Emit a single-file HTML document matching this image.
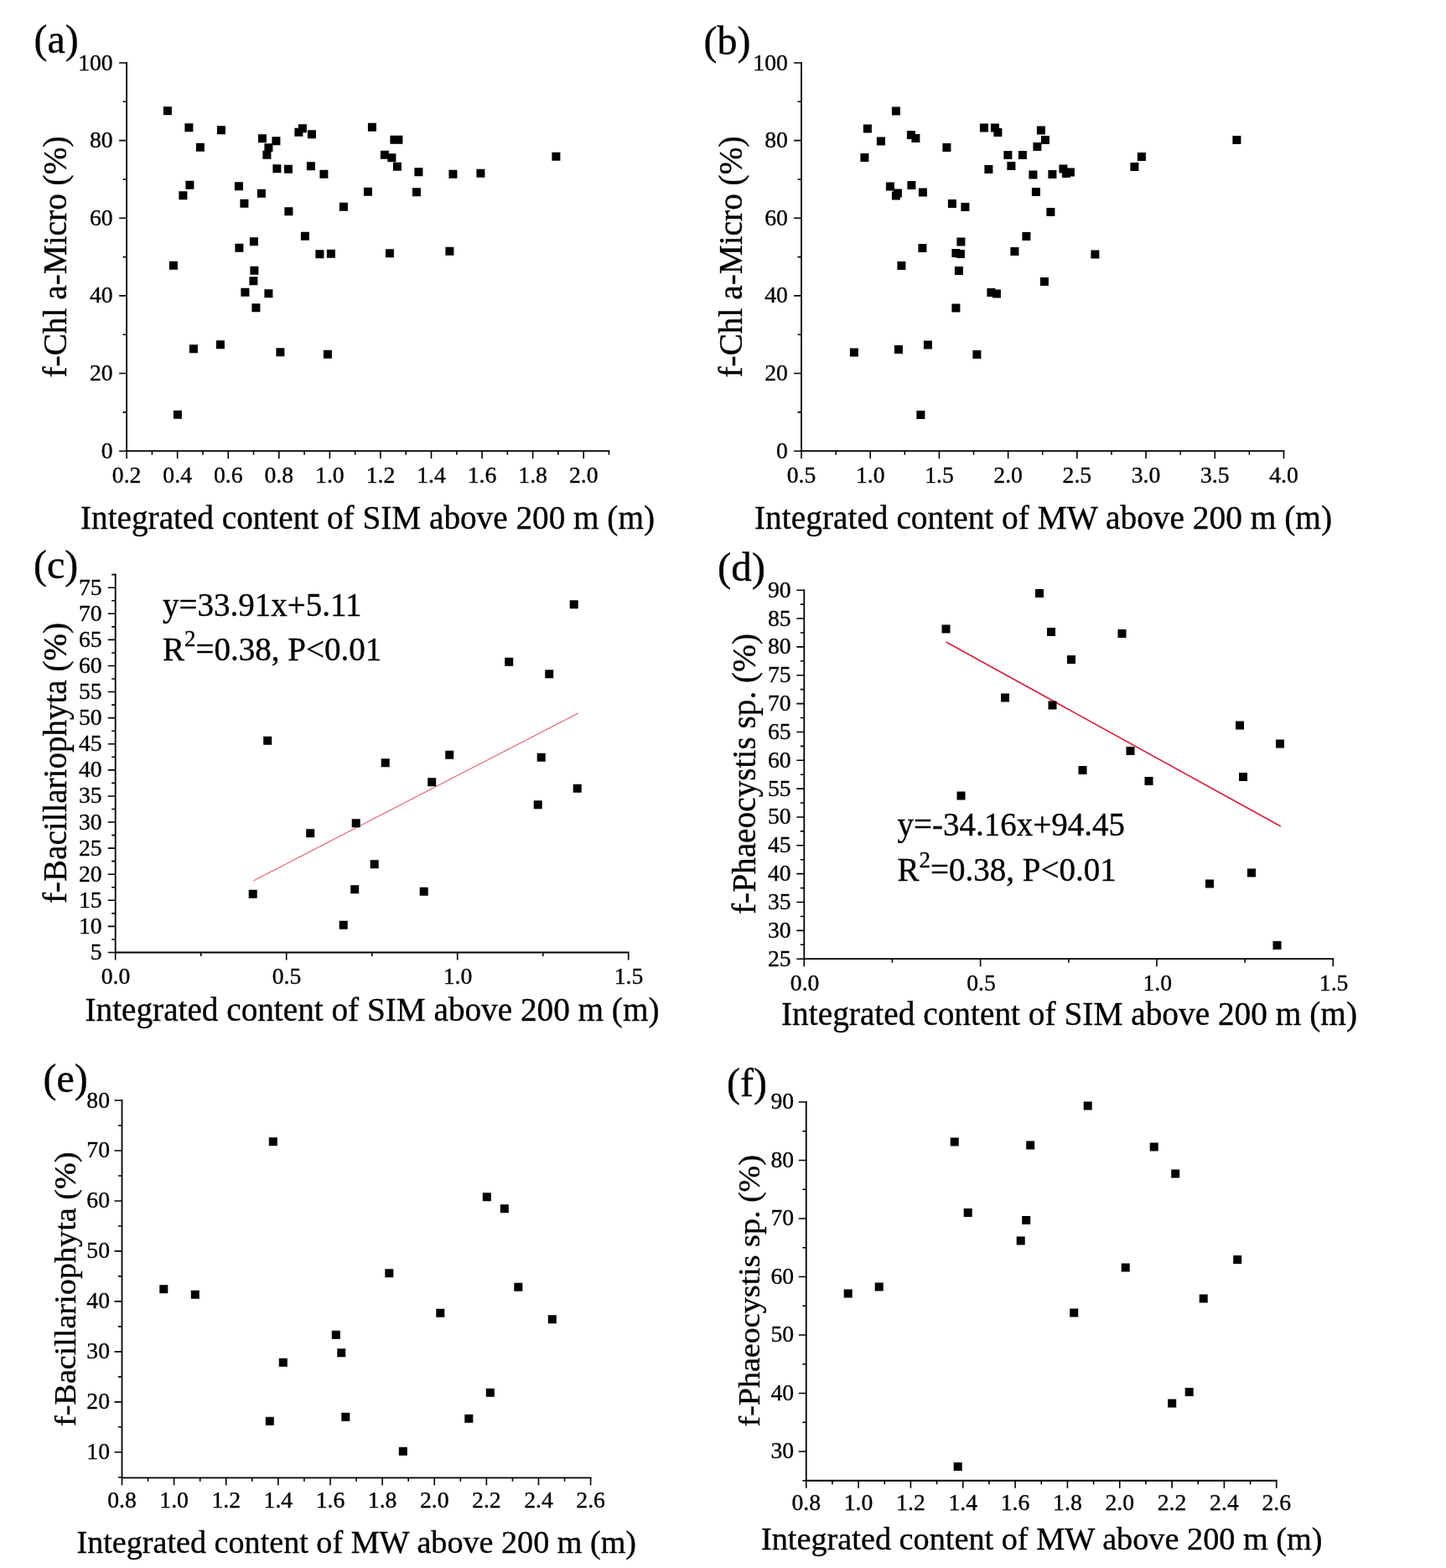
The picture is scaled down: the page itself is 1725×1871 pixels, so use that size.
<!DOCTYPE html>
<html lang="en"><head><meta charset="utf-8"><title>Figure</title>
<style>
html,body{margin:0;padding:0;background:#fff;}
body{width:1725px;height:1871px;overflow:hidden;}
svg{display:block;font-family:"Liberation Serif", serif;fill:#000;}
text{stroke:#000;stroke-width:0.35px;}
</style></head><body>
<svg width="1725" height="1871" viewBox="0 0 1725 1871">
<rect width="1725" height="1871" fill="#fff"/>
<path d="M151.1 74.1V539.1M150.2 538.2H727.38" fill="none" stroke="#000" stroke-width="1.8"/>
<path d="M151.1 538.2v9.0M211.67 538.2v9.0M272.23 538.2v9.0M332.8 538.2v9.0M393.37 538.2v9.0M453.93 538.2v9.0M514.5 538.2v9.0M575.07 538.2v9.0M635.63 538.2v9.0M696.2 538.2v9.0M181.38 538.2v4.5M241.95 538.2v4.5M302.52 538.2v4.5M363.08 538.2v4.5M423.65 538.2v4.5M484.22 538.2v4.5M544.78 538.2v4.5M605.35 538.2v4.5M665.92 538.2v4.5M726.48 538.2v4.5M151.1 538.2h-9.0M151.1 445.56h-9.0M151.1 352.92h-9.0M151.1 260.28h-9.0M151.1 167.64h-9.0M151.1 75h-9.0M151.1 491.88h-4.5M151.1 399.24h-4.5M151.1 306.6h-4.5M151.1 213.96h-4.5M151.1 121.32h-4.5" fill="none" stroke="#000" stroke-width="1.6"/>
<g font-size="27.7" text-anchor="middle">
<text x="151.1" y="575.5">0.2</text>
<text x="211.67" y="575.5">0.4</text>
<text x="272.23" y="575.5">0.6</text>
<text x="332.8" y="575.5">0.8</text>
<text x="393.37" y="575.5">1.0</text>
<text x="453.93" y="575.5">1.2</text>
<text x="514.5" y="575.5">1.4</text>
<text x="575.07" y="575.5">1.6</text>
<text x="635.63" y="575.5">1.8</text>
<text x="696.2" y="575.5">2.0</text>
</g>
<g font-size="27.7" text-anchor="end">
<text x="134.7" y="546.7">0</text>
<text x="134.7" y="454.06">20</text>
<text x="134.7" y="361.42">40</text>
<text x="134.7" y="268.78">60</text>
<text x="134.7" y="176.14">80</text>
<text x="134.7" y="83.5">100</text>
</g>
<text x="96" y="631" font-size="39" textLength="685" lengthAdjust="spacingAndGlyphs">Integrated content of SIM above 200 m (m)</text>
<text transform="translate(78.7 450.5) rotate(-90)" font-size="39" textLength="288" lengthAdjust="spacingAndGlyphs">f-Chl a-Micro (%)</text>
<text x="40.5" y="62.6" font-size="48">(a)</text>
<path d="M194.9 127.3h10v10h-10zM220.4 147.3h10v10h-10zM258.9 150.3h10v10h-10zM233.9 170.8h10v10h-10zM307.9 160.3h10v10h-10zM324.4 163.3h10v10h-10zM315.4 171.3h10v10h-10zM313.4 179.8h10v10h-10zM325.4 196.3h10v10h-10zM338.9 196.8h10v10h-10zM351.4 152.8h10v10h-10zM355.9 148.3h10v10h-10zM366.9 155.3h10v10h-10zM365.9 193.3h10v10h-10zM381.4 202.8h10v10h-10zM438.9 146.8h10v10h-10zM465.4 161.8h10v10h-10zM470.4 161.8h10v10h-10zM453.9 179.8h10v10h-10zM462.4 183.3h10v10h-10zM468.9 193.8h10v10h-10zM494.4 200.3h10v10h-10zM535.4 202.8h10v10h-10zM568.4 201.8h10v10h-10zM658.4 181.8h10v10h-10zM221.4 215.8h10v10h-10zM213.4 228.3h10v10h-10zM279.9 217.3h10v10h-10zM286.4 237.8h10v10h-10zM306.9 225.8h10v10h-10zM339.4 247.3h10v10h-10zM404.9 241.8h10v10h-10zM433.9 223.8h10v10h-10zM491.9 224.3h10v10h-10zM358.9 276.8h10v10h-10zM297.9 283.3h10v10h-10zM280.4 290.8h10v10h-10zM376.4 298.3h10v10h-10zM389.9 297.8h10v10h-10zM459.9 297.3h10v10h-10zM531.4 294.8h10v10h-10zM201.9 311.8h10v10h-10zM298.4 317.8h10v10h-10zM297.4 330.3h10v10h-10zM287.4 343.8h10v10h-10zM315.4 345.3h10v10h-10zM300.4 362.3h10v10h-10zM225.9 411.3h10v10h-10zM257.9 406.3h10v10h-10zM329.4 415.3h10v10h-10zM385.9 417.8h10v10h-10zM206.9 489.8h10v10h-10z" fill="#000"/>
<path d="M956 74.1V539.1M955.1 538.2H1532.4" fill="none" stroke="#000" stroke-width="1.8"/>
<path d="M956 538.2v9.0M1038.21 538.2v9.0M1120.43 538.2v9.0M1202.64 538.2v9.0M1284.86 538.2v9.0M1367.07 538.2v9.0M1449.29 538.2v9.0M1531.5 538.2v9.0M997.11 538.2v4.5M1079.32 538.2v4.5M1161.54 538.2v4.5M1243.75 538.2v4.5M1325.96 538.2v4.5M1408.18 538.2v4.5M1490.39 538.2v4.5M956 538.2h-9.0M956 445.56h-9.0M956 352.92h-9.0M956 260.28h-9.0M956 167.64h-9.0M956 75h-9.0M956 491.88h-4.5M956 399.24h-4.5M956 306.6h-4.5M956 213.96h-4.5M956 121.32h-4.5" fill="none" stroke="#000" stroke-width="1.6"/>
<g font-size="27.7" text-anchor="middle">
<text x="956" y="575.8">0.5</text>
<text x="1038.21" y="575.8">1.0</text>
<text x="1120.43" y="575.8">1.5</text>
<text x="1202.64" y="575.8">2.0</text>
<text x="1284.86" y="575.8">2.5</text>
<text x="1367.07" y="575.8">3.0</text>
<text x="1449.29" y="575.8">3.5</text>
<text x="1531.5" y="575.8">4.0</text>
</g>
<g font-size="27.7" text-anchor="end">
<text x="939.9" y="546.7">0</text>
<text x="939.9" y="454.06">20</text>
<text x="939.9" y="361.42">40</text>
<text x="939.9" y="268.78">60</text>
<text x="939.9" y="176.14">80</text>
<text x="939.9" y="83.5">100</text>
</g>
<text x="900" y="631" font-size="39" textLength="689" lengthAdjust="spacingAndGlyphs">Integrated content of MW above 200 m (m)</text>
<text transform="translate(884.5 450.5) rotate(-90)" font-size="39" textLength="288" lengthAdjust="spacingAndGlyphs">f-Chl a-Micro (%)</text>
<text x="839.5" y="64.6" font-size="48">(b)</text>
<path d="M1063.9 127.4h10v10h-10zM1029.9 148.4h10v10h-10zM1045.9 163.4h10v10h-10zM1026.4 182.9h10v10h-10zM1081.9 155.9h10v10h-10zM1087.4 159.9h10v10h-10zM1124.4 170.9h10v10h-10zM1168.9 147.4h10v10h-10zM1181.9 147.4h10v10h-10zM1185.4 152.9h10v10h-10zM1236.9 150.4h10v10h-10zM1241.9 161.9h10v10h-10zM1232.4 169.9h10v10h-10zM1197.4 179.9h10v10h-10zM1214.9 179.9h10v10h-10zM1201.4 192.9h10v10h-10zM1174.4 196.9h10v10h-10zM1227.4 203.4h10v10h-10zM1250.4 202.9h10v10h-10zM1263.4 196.4h10v10h-10zM1266.9 201.9h10v10h-10zM1271.9 200.4h10v10h-10zM1348.4 193.9h10v10h-10zM1356.9 181.9h10v10h-10zM1470.4 161.9h10v10h-10zM1056.9 217.4h10v10h-10zM1082.4 215.9h10v10h-10zM1065.9 225.4h10v10h-10zM1063.9 228.4h10v10h-10zM1095.9 224.4h10v10h-10zM1130.9 237.9h10v10h-10zM1146.4 241.9h10v10h-10zM1230.9 223.9h10v10h-10zM1248.4 247.9h10v10h-10zM1219.4 276.9h10v10h-10zM1141.4 283.4h10v10h-10zM1095.4 290.9h10v10h-10zM1135.4 296.9h10v10h-10zM1140.9 297.9h10v10h-10zM1205.4 294.9h10v10h-10zM1301.4 298.4h10v10h-10zM1070.4 311.9h10v10h-10zM1138.9 317.9h10v10h-10zM1240.9 330.9h10v10h-10zM1177.4 343.9h10v10h-10zM1183.9 345.4h10v10h-10zM1135.4 362.4h10v10h-10zM1013.9 415.4h10v10h-10zM1066.9 411.9h10v10h-10zM1101.9 406.4h10v10h-10zM1160.4 417.9h10v10h-10zM1093.4 489.9h10v10h-10z" fill="#000"/>
<path d="M137.7 684.4V1137.4M136.8 1136.5H750.6" fill="none" stroke="#000" stroke-width="1.8"/>
<path d="M137.7 1136.5v9.0M341.7 1136.5v9.0M545.7 1136.5v9.0M749.7 1136.5v9.0M239.7 1136.5v4.5M443.7 1136.5v4.5M647.7 1136.5v4.5M137.7 1136.5h-9.0M137.7 1105.41h-9.0M137.7 1074.31h-9.0M137.7 1043.22h-9.0M137.7 1012.13h-9.0M137.7 981.04h-9.0M137.7 949.94h-9.0M137.7 918.85h-9.0M137.7 887.76h-9.0M137.7 856.66h-9.0M137.7 825.57h-9.0M137.7 794.48h-9.0M137.7 763.39h-9.0M137.7 732.29h-9.0M137.7 701.2h-9.0M137.7 1120.95h-4.5M137.7 1089.86h-4.5M137.7 1058.77h-4.5M137.7 1027.67h-4.5M137.7 996.58h-4.5M137.7 965.49h-4.5M137.7 934.4h-4.5M137.7 903.3h-4.5M137.7 872.21h-4.5M137.7 841.12h-4.5M137.7 810.03h-4.5M137.7 778.93h-4.5M137.7 747.84h-4.5M137.7 716.75h-4.5M137.7 685.65h-4.5" fill="none" stroke="#000" stroke-width="1.6"/>
<g font-size="27.7" text-anchor="middle">
<text x="138" y="1173.8">0.0</text>
<text x="342" y="1173.8">0.5</text>
<text x="546" y="1173.8">1.0</text>
<text x="750" y="1173.8">1.5</text>
</g>
<g font-size="27.7" text-anchor="end">
<text x="121.7" y="1145">5</text>
<text x="121.7" y="1113.91">10</text>
<text x="121.7" y="1082.81">15</text>
<text x="121.7" y="1051.72">20</text>
<text x="121.7" y="1020.63">25</text>
<text x="121.7" y="989.54">30</text>
<text x="121.7" y="958.44">35</text>
<text x="121.7" y="927.35">40</text>
<text x="121.7" y="896.26">45</text>
<text x="121.7" y="865.16">50</text>
<text x="121.7" y="834.07">55</text>
<text x="121.7" y="802.98">60</text>
<text x="121.7" y="771.89">65</text>
<text x="121.7" y="740.79">70</text>
<text x="121.7" y="709.7">75</text>
</g>
<text x="101.5" y="1218.3" font-size="39" textLength="685" lengthAdjust="spacingAndGlyphs">Integrated content of SIM above 200 m (m)</text>
<text transform="translate(78.5 1078) rotate(-90)" font-size="39" textLength="335" lengthAdjust="spacingAndGlyphs">f-Bacillariophyta (%)</text>
<text x="40" y="689.5" font-size="48">(c)</text>
<line x1="302.3" y1="1051" x2="689.8" y2="851" stroke="#dc3347" stroke-width="0.95"/>
<text x="194" y="734.7" font-size="39">y=33.91x+5.11</text>
<text x="194" y="787.5" font-size="39">R<tspan font-size="27" dy="-16.5">2</tspan><tspan dy="16.5">=0.38, P&lt;0.01</tspan></text>
<path d="M679.7 716.3h10v10h-10zM602.2 784.8h10v10h-10zM650.2 799.3h10v10h-10zM314.2 878.8h10v10h-10zM531.2 895.8h10v10h-10zM454.7 905.3h10v10h-10zM640.7 898.8h10v10h-10zM510.2 928.3h10v10h-10zM683.7 935.8h10v10h-10zM636.7 955.3h10v10h-10zM419.7 977.3h10v10h-10zM365.2 989.3h10v10h-10zM441.7 1026.3h10v10h-10zM418.2 1056.3h10v10h-10zM500.7 1058.8h10v10h-10zM296.7 1061.8h10v10h-10zM404.7 1098.8h10v10h-10z" fill="#000"/>
<path d="M959.3 703.3V1145.1M958.4 1144.2H1591.2" fill="none" stroke="#000" stroke-width="1.8"/>
<path d="M959.3 1144.2v9.0M1169.63 1144.2v9.0M1379.97 1144.2v9.0M1590.3 1144.2v9.0M1064.47 1144.2v4.5M1274.8 1144.2v4.5M1485.13 1144.2v4.5M959.3 1144.2h-9.0M959.3 1110.35h-9.0M959.3 1076.51h-9.0M959.3 1042.66h-9.0M959.3 1008.82h-9.0M959.3 974.97h-9.0M959.3 941.12h-9.0M959.3 907.28h-9.0M959.3 873.43h-9.0M959.3 839.58h-9.0M959.3 805.74h-9.0M959.3 771.89h-9.0M959.3 738.05h-9.0M959.3 704.2h-9.0M959.3 1127.28h-4.5M959.3 1093.43h-4.5M959.3 1059.58h-4.5M959.3 1025.74h-4.5M959.3 991.89h-4.5M959.3 958.05h-4.5M959.3 924.2h-4.5M959.3 890.35h-4.5M959.3 856.51h-4.5M959.3 822.66h-4.5M959.3 788.82h-4.5M959.3 754.97h-4.5M959.3 721.12h-4.5" fill="none" stroke="#000" stroke-width="1.6"/>
<g font-size="27.7" text-anchor="middle">
<text x="960.1" y="1182.2">0.0</text>
<text x="1170.43" y="1182.2">0.5</text>
<text x="1380.77" y="1182.2">1.0</text>
<text x="1591.1" y="1182.2">1.5</text>
</g>
<g font-size="27.7" text-anchor="end">
<text x="943.7" y="1152.7">25</text>
<text x="943.7" y="1118.85">30</text>
<text x="943.7" y="1085.01">35</text>
<text x="943.7" y="1051.16">40</text>
<text x="943.7" y="1017.32">45</text>
<text x="943.7" y="983.47">50</text>
<text x="943.7" y="949.62">55</text>
<text x="943.7" y="915.78">60</text>
<text x="943.7" y="881.93">65</text>
<text x="943.7" y="848.08">70</text>
<text x="943.7" y="814.24">75</text>
<text x="943.7" y="780.39">80</text>
<text x="943.7" y="746.55">85</text>
<text x="943.7" y="712.7">90</text>
</g>
<text x="932" y="1222.5" font-size="39" textLength="687" lengthAdjust="spacingAndGlyphs">Integrated content of SIM above 200 m (m)</text>
<text transform="translate(900.8 1091) rotate(-90)" font-size="39" textLength="335" lengthAdjust="spacingAndGlyphs">f-Phaeocystis sp. (%)</text>
<text x="856" y="692.8" font-size="49">(d)</text>
<line x1="1128.6" y1="766" x2="1527.8" y2="986" stroke="#d4213d" stroke-width="1.6"/>
<text x="1070.5" y="996.5" font-size="39">y=-34.16x+94.45</text>
<text x="1070.5" y="1051" font-size="39">R<tspan font-size="27" dy="-16.5">2</tspan><tspan dy="16.5">=0.38, P&lt;0.01</tspan></text>
<path d="M1235 703h10v10h-10zM1123.5 745.5h10v10h-10zM1249 749h10v10h-10zM1333.5 751h10v10h-10zM1273 782h10v10h-10zM1194 827.5h10v10h-10zM1250.5 836.5h10v10h-10zM1474 860.5h10v10h-10zM1522 882.5h10v10h-10zM1343.5 891h10v10h-10zM1286.5 914h10v10h-10zM1478 922h10v10h-10zM1365.5 927h10v10h-10zM1141.5 944.5h10v10h-10zM1488 1036.5h10v10h-10zM1438 1049.5h10v10h-10zM1518.5 1123h10v10h-10z" fill="#000"/>
<path d="M145.5 1312.1V1764.2M144.6 1763.3H705.5" fill="none" stroke="#000" stroke-width="1.8"/>
<path d="M145.5 1763.3v9.0M207.62 1763.3v9.0M269.74 1763.3v9.0M331.87 1763.3v9.0M393.99 1763.3v9.0M456.11 1763.3v9.0M518.23 1763.3v9.0M580.36 1763.3v9.0M642.48 1763.3v9.0M704.6 1763.3v9.0M176.56 1763.3v4.5M238.68 1763.3v4.5M300.81 1763.3v4.5M362.93 1763.3v4.5M425.05 1763.3v4.5M487.17 1763.3v4.5M549.29 1763.3v4.5M611.42 1763.3v4.5M673.54 1763.3v4.5M145.5 1732.8h-9.0M145.5 1672.83h-9.0M145.5 1612.86h-9.0M145.5 1552.89h-9.0M145.5 1492.91h-9.0M145.5 1432.94h-9.0M145.5 1372.97h-9.0M145.5 1313h-9.0M145.5 1762.79h-4.5M145.5 1702.81h-4.5M145.5 1642.84h-4.5M145.5 1582.87h-4.5M145.5 1522.9h-4.5M145.5 1462.93h-4.5M145.5 1402.96h-4.5M145.5 1342.99h-4.5" fill="none" stroke="#000" stroke-width="1.6"/>
<g font-size="27.7" text-anchor="middle">
<text x="145.5" y="1799.3">0.8</text>
<text x="207.62" y="1799.3">1.0</text>
<text x="269.74" y="1799.3">1.2</text>
<text x="331.87" y="1799.3">1.4</text>
<text x="393.99" y="1799.3">1.6</text>
<text x="456.11" y="1799.3">1.8</text>
<text x="518.23" y="1799.3">2.0</text>
<text x="580.36" y="1799.3">2.2</text>
<text x="642.48" y="1799.3">2.4</text>
<text x="704.6" y="1799.3">2.6</text>
</g>
<g font-size="27.7" text-anchor="end">
<text x="131" y="1741.3">10</text>
<text x="131" y="1681.33">20</text>
<text x="131" y="1621.36">30</text>
<text x="131" y="1561.39">40</text>
<text x="131" y="1501.41">50</text>
<text x="131" y="1441.44">60</text>
<text x="131" y="1381.47">70</text>
<text x="131" y="1321.5">80</text>
</g>
<text x="91.5" y="1853.3" font-size="38" textLength="667.5" lengthAdjust="spacingAndGlyphs">Integrated content of MW above 200 m (m)</text>
<text transform="translate(89.7 1702) rotate(-90)" font-size="36.5" textLength="327.5" lengthAdjust="spacingAndGlyphs">f-Bacillariophyta (%)</text>
<text x="51.5" y="1302.5" font-size="48">(e)</text>
<path d="M320.8 1357.3h10v10h-10zM575.8 1423.3h10v10h-10zM596.8 1437.3h10v10h-10zM459.3 1514.3h10v10h-10zM190.3 1533.3h10v10h-10zM227.8 1539.8h10v10h-10zM613.3 1530.8h10v10h-10zM520.3 1561.8h10v10h-10zM653.8 1569.3h10v10h-10zM395.8 1587.8h10v10h-10zM402.3 1609.3h10v10h-10zM332.8 1620.8h10v10h-10zM579.8 1656.8h10v10h-10zM316.8 1690.8h10v10h-10zM407.3 1685.8h10v10h-10zM554.3 1687.8h10v10h-10zM475.8 1726.8h10v10h-10z" fill="#000"/>
<path d="M961.75 1314.1V1767.65M960.85 1766.75H1523.65" fill="none" stroke="#000" stroke-width="1.8"/>
<path d="M961.75 1766.75v9.0M1024.08 1766.75v9.0M1086.42 1766.75v9.0M1148.75 1766.75v9.0M1211.08 1766.75v9.0M1273.42 1766.75v9.0M1335.75 1766.75v9.0M1398.08 1766.75v9.0M1460.42 1766.75v9.0M1522.75 1766.75v9.0M992.92 1766.75v4.5M1055.25 1766.75v4.5M1117.58 1766.75v4.5M1179.92 1766.75v4.5M1242.25 1766.75v4.5M1304.58 1766.75v4.5M1366.92 1766.75v4.5M1429.25 1766.75v4.5M1491.58 1766.75v4.5M961.75 1732h-9.0M961.75 1662.5h-9.0M961.75 1593h-9.0M961.75 1523.5h-9.0M961.75 1454h-9.0M961.75 1384.5h-9.0M961.75 1315h-9.0M961.75 1766.75h-4.5M961.75 1697.25h-4.5M961.75 1627.75h-4.5M961.75 1558.25h-4.5M961.75 1488.75h-4.5M961.75 1419.25h-4.5M961.75 1349.75h-4.5" fill="none" stroke="#000" stroke-width="1.6"/>
<g font-size="27.7" text-anchor="middle">
<text x="961.75" y="1802.3">0.8</text>
<text x="1024.08" y="1802.3">1.0</text>
<text x="1086.42" y="1802.3">1.2</text>
<text x="1148.75" y="1802.3">1.4</text>
<text x="1211.08" y="1802.3">1.6</text>
<text x="1273.42" y="1802.3">1.8</text>
<text x="1335.75" y="1802.3">2.0</text>
<text x="1398.08" y="1802.3">2.2</text>
<text x="1460.42" y="1802.3">2.4</text>
<text x="1522.75" y="1802.3">2.6</text>
</g>
<g font-size="27.7" text-anchor="end">
<text x="947.2" y="1740">30</text>
<text x="947.2" y="1670.5">40</text>
<text x="947.2" y="1601">50</text>
<text x="947.2" y="1531.5">60</text>
<text x="947.2" y="1462">70</text>
<text x="947.2" y="1392.5">80</text>
<text x="947.2" y="1323">90</text>
</g>
<text x="908" y="1848.8" font-size="38" textLength="669.5" lengthAdjust="spacingAndGlyphs">Integrated content of MW above 200 m (m)</text>
<text transform="translate(905.5 1702.5) rotate(-90)" font-size="36.5" textLength="324.5" lengthAdjust="spacingAndGlyphs">f-Phaeocystis sp. (%)</text>
<text x="867" y="1307.5" font-size="48">(f)</text>
<path d="M1292.7 1314.6h10v10h-10zM1133.7 1357.6h10v10h-10zM1224.2 1361.6h10v10h-10zM1371.7 1363.6h10v10h-10zM1397.2 1395.6h10v10h-10zM1149.7 1442.1h10v10h-10zM1219.2 1451.1h10v10h-10zM1212.7 1475.6h10v10h-10zM1471.2 1498.1h10v10h-10zM1337.7 1507.6h10v10h-10zM1043.7 1530.6h10v10h-10zM1006.7 1538.6h10v10h-10zM1430.7 1544.6h10v10h-10zM1276.2 1561.6h10v10h-10zM1413.7 1656.1h10v10h-10zM1393.2 1669.6h10v10h-10zM1137.7 1745.1h10v10h-10z" fill="#000"/>
</svg>
</body></html>
